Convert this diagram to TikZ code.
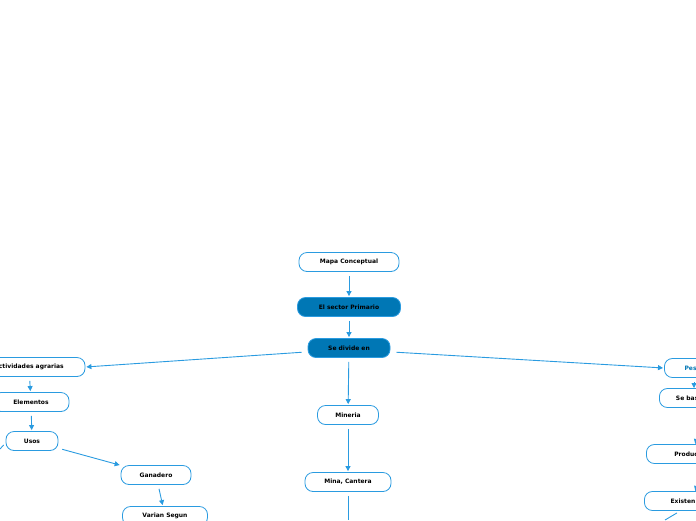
\documentclass[tikz,border=0pt]{standalone}
\usepackage{fontspec}
\setmainfont{DejaVu Sans}
\usetikzlibrary{arrows.meta}
\definecolor{ln}{HTML}{2A9BE0}
\definecolor{fl}{HTML}{0077B5}
\begin{document}
\begin{tikzpicture}[x=1pt,y=-1pt,
 box/.style={draw=ln,line width=0.8pt,rounded corners=8pt,minimum height=19pt,fill=white,font=\bfseries\fontsize{6}{7}\selectfont,inner sep=1pt},
 dark/.style={box,fill=fl},
 con/.style={draw=ln,line width=0.9pt,-{Triangle[length=5pt,width=5pt]},shorten >=1pt,shorten <=4pt},
 plain/.style={draw=ln,line width=0.9pt}]
\useasboundingbox (0,0) rectangle (696,520);
\node[box,minimum width=100pt] (mapa) at (349,262) {Mapa Conceptual};
\node[dark,minimum width=103pt] (sector) at (349,307) {El sector Primario};
\node[dark,minimum width=82pt] (divide) at (349,348) {Se divide en};
\node[box,minimum width=112pt] (agr) at (29,367) {Actividades agrarias};
\node[box,minimum width=76pt] (elem) at (31,402) {Elementos};
\node[box,minimum width=52pt] (usos) at (32,441) {Usos};
\node[box,minimum width=70pt] (gan) at (156,475) {Ganadero};
\node[box,minimum width=85pt] (var) at (165,516) {Varian Segun};
\node[box,minimum width=61pt] (min) at (348,415) {Mineria};
\node[box,minimum width=86pt] (mina) at (348,482) {Mina, Cantera};
\node[box,minimum width=60pt,anchor=west,text=fl] (pesca) at (664,368) {Pesca};
\node[box,minimum width=70pt,anchor=west] (basa) at (659,398) {Se basa en};
\node[box,minimum width=90pt,anchor=west] (prod) at (646,454) {Productos};
\node[box,minimum width=100pt,anchor=west] (exist) at (644,501) {Existen varios};
\coordinate (mb) at (348,520);
\coordinate (ul) at (0,449);
\coordinate (el) at (665,520);
\coordinate (pt) at (697,437);
\coordinate (et) at (697,485);
\draw[con] (mapa) -- (sector);
\draw[con] (sector) -- (divide);
\draw[con] (divide.west) ++(-2,4) -- (agr.east);
\draw[con] (divide.east) ++(2,4) -- (pesca.west);
\draw[con] (divide) -- (min);
\draw[con] (min) -- (mina);
\draw[plain] (mina.south) ++(0,4) -- (mb);
\draw[con] (agr) -- (elem);
\draw[con] (elem) -- (usos);
\draw[con] (usos) -- (gan);
\draw[con] (gan) -- (var);
\draw[plain] (usos.west) ++(-2,4) -- (ul);
\draw[con] (694,378) -- (694,389);
\draw[con] (pt) -- (695,445);
\draw[con] (et) -- (695,492);
\draw[plain] (exist.south west) ++(33,2) -- (el);
\end{tikzpicture}
\end{document}
